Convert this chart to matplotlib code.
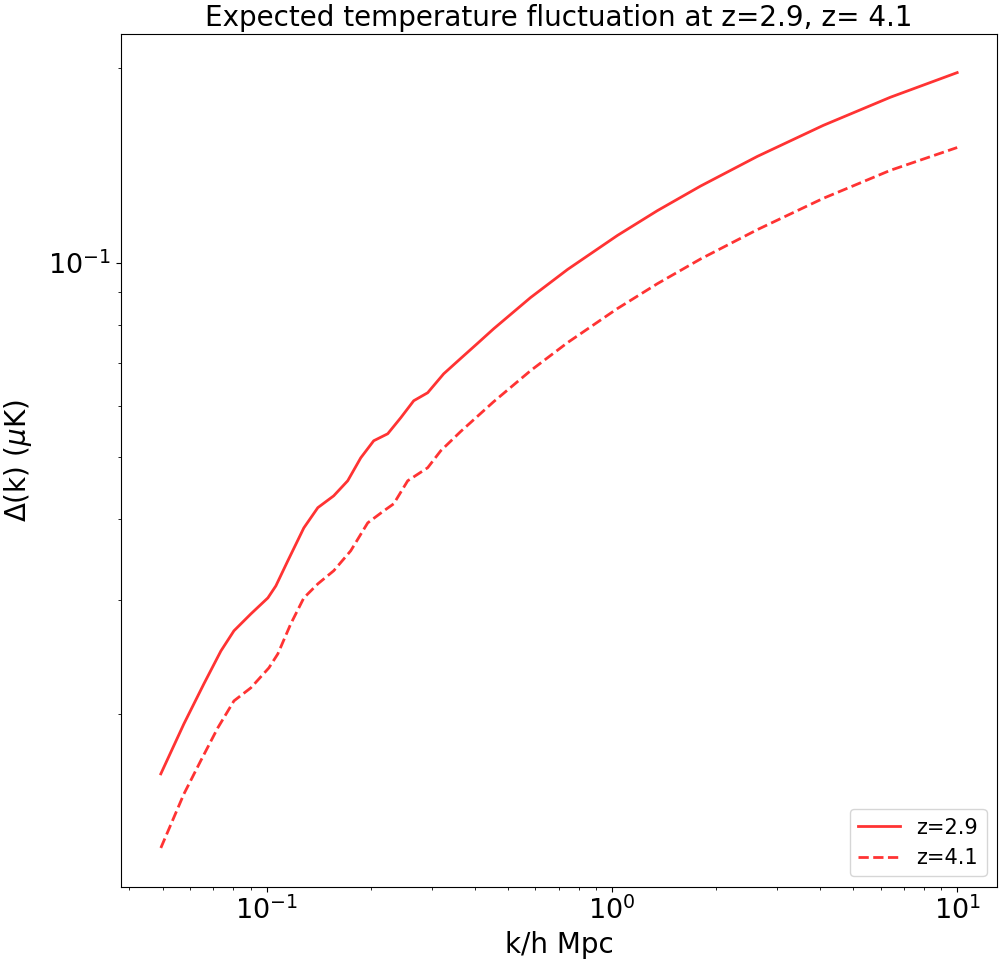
import matplotlib
matplotlib.use("Agg")
import matplotlib.pyplot as plt

# values (k in h/Mpc, Delta in muK)
k_z29 = [0.0493, 0.0575, 0.0657, 0.0736, 0.0803, 0.0899, 0.1007, 0.1062, 0.115,
         0.128, 0.1405, 0.1562, 0.1715, 0.1871, 0.204, 0.224, 0.2443, 0.2664,
         0.2924, 0.3253, 0.3643, 0.408, 0.4539, 0.5808, 0.7434, 1.037, 1.354,
         1.804, 2.637, 4.094, 6.4, 10.0]
d_z29 = [0.01614, 0.01929, 0.02225, 0.02502, 0.02689, 0.02856, 0.03024, 0.03156,
         0.03451, 0.03882, 0.04172, 0.04352, 0.04592, 0.04984, 0.05297, 0.05431,
         0.0575, 0.0611, 0.06287, 0.06726, 0.07104, 0.07500, 0.07897, 0.08829,
         0.09760, 0.1102, 0.1204, 0.1314, 0.1461, 0.1632, 0.1804, 0.197]

k_z41 = [0.0493, 0.0575, 0.0643, 0.0721, 0.0803, 0.0899, 0.1014, 0.1076, 0.1173,
         0.128, 0.1405, 0.1562, 0.175, 0.196, 0.2182, 0.2331, 0.2559, 0.2924,
         0.3189, 0.3643, 0.4246, 0.4539, 0.5808, 0.7434, 1.037, 1.354, 1.804,
         2.637, 4.094, 6.4, 10.0]
d_z41 = [0.01239, 0.01502, 0.0169, 0.01902, 0.02094, 0.02194, 0.02356, 0.02476,
         0.02756, 0.03024, 0.03179, 0.03331, 0.03577, 0.03952, 0.04125, 0.0423,
         0.04592, 0.04811, 0.0511, 0.05474, 0.05895, 0.06088, 0.06802, 0.07518,
         0.0849, 0.09278, 0.1013, 0.1125, 0.1258, 0.139, 0.1508]

fig, ax = plt.subplots(figsize=(10, 9.67), dpi=100)
fig.subplots_adjust(left=0.121, right=0.997, top=0.965, bottom=0.083)

ax.loglog(k_z29, d_z29, color='red', alpha=0.8, lw=2, label='z=2.9')
ax.loglog(k_z41, d_z41, color='red', alpha=0.8, lw=2, ls='--', label='z=4.1')

ax.set_title('Expected temperature fluctuation at z=2.9, z= 4.1', fontsize=20)
ax.set_xlabel('k/h Mpc', fontsize=20)
ax.set_ylabel(r'$\Delta$(k) ($\mu$K)', fontsize=20, labelpad=10)
ax.tick_params(axis='both', which='major', labelsize=19.5)
ax.legend(loc='lower right', fontsize=15)

plt.savefig('out.png', dpi=100)
